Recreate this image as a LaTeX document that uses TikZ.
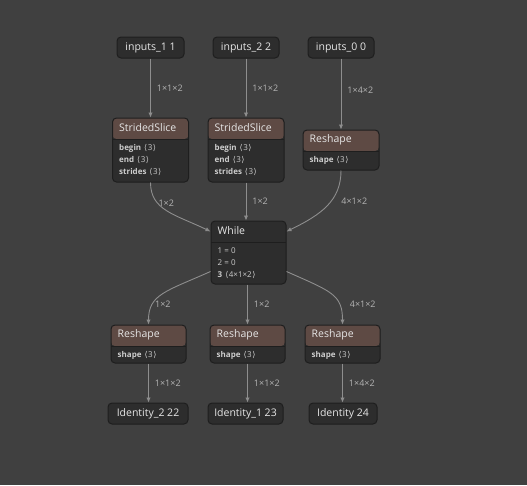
\documentclass[tikz,border=0pt]{standalone}
\usepackage{fontspec}
\setmainfont{Open Sans}
\newfontfamily\symfont{DejaVu Sans}
\usetikzlibrary{arrows.meta, positioning, calc}

\definecolor{canvas}{HTML}{404040}
\definecolor{boxfill}{HTML}{2D2D2D}
\definecolor{boxline}{HTML}{1E1E1E}
\definecolor{headfill}{HTML}{5E4A44}
\definecolor{wire}{HTML}{8E8E8E}
\definecolor{wiretext}{HTML}{B4B4B4}
\definecolor{titletext}{HTML}{E6E6E6}
\definecolor{attrtext}{HTML}{CDCDCD}

\newcommand\tens[1]{\hspace{3pt}{\symfont\char"27E8}\hspace{0.5pt}#1\hspace{0.5pt}{\symfont\char"27E9}}

\tikzset{
  io/.style={draw=boxline, fill=boxfill, rounded corners=4pt, line width=1pt,
    minimum height=21pt, inner sep=0pt, text=titletext,
    font=\fontsize{10.5}{12}\selectfont},
  opbox/.style={draw=boxline, fill=boxfill, rounded corners=4pt, line width=1pt,
    inner sep=0pt,
    path picture={
      \fill[headfill] (path picture bounding box.north west)
        rectangle ([yshift=-21pt]path picture bounding box.north east);
      \draw[boxline, line width=1pt] ([yshift=-21pt]path picture bounding box.north west)
        -- ([yshift=-21pt]path picture bounding box.north east);}},
  ctlbox/.style={draw=boxline, fill=boxfill, rounded corners=4pt, line width=1pt,
    inner sep=0pt,
    path picture={
      \draw[boxline, line width=1pt] ([yshift=-21pt]path picture bounding box.north west)
        -- ([yshift=-21pt]path picture bounding box.north east);}},
  title/.style={anchor=west, inner sep=0pt, text=titletext,
    font=\fontsize{10.5}{12}\selectfont},
  attr/.style={anchor=north west, inner sep=0pt, align=left, text=attrtext,
    font=\fontsize{8}{12}\selectfont},
  wire/.style={draw=wire, line width=0.9pt, -{Latex[length=5pt,width=4.5pt]}},
  lbl/.style={inner sep=0pt, text=wiretext, font=\fontsize{9}{10}\selectfont},
}

\begin{document}
\begin{tikzpicture}[x=1pt, y=-1pt]
  \fill[canvas] (0,0) rectangle (527,485);
  \useasboundingbox (0,0) rectangle (527,485);

  % inputs
  \node[io, minimum width=67pt] (in1) at (150.5,47.5) {inputs\_1 1};
  \node[io, minimum width=66pt] (in2) at (246,47.5) {inputs\_2 2};
  \node[io, minimum width=66pt] (in0) at (341,47.5) {inputs\_0 0};

  % first row of ops
  \node[opbox, minimum width=76pt, minimum height=64pt] (ss1) at (150.5,150) {};
  \node[title] at ([xshift=7pt,yshift=-10.5pt]ss1.north west) {StridedSlice};
  \node[attr] at ([xshift=7pt,yshift=-27pt]ss1.north west)
    {\textbf{begin}\tens{3}\\\textbf{end}\tens{3}\\\textbf{strides}\tens{3}};

  \node[opbox, minimum width=76pt, minimum height=64pt] (ss2) at (246,150) {};
  \node[title] at ([xshift=7pt,yshift=-10.5pt]ss2.north west) {StridedSlice};
  \node[attr] at ([xshift=7pt,yshift=-27pt]ss2.north west)
    {\textbf{begin}\tens{3}\\\textbf{end}\tens{3}\\\textbf{strides}\tens{3}};

  \node[opbox, minimum width=76pt, minimum height=40pt] (rs0) at (341,150) {};
  \node[title] at ([xshift=7pt,yshift=-10.5pt]rs0.north west) {Reshape};
  \node[attr] at ([xshift=7pt,yshift=-27pt]rs0.north west) {\textbf{shape}\tens{3}};

  % loop
  \node[ctlbox, minimum width=75pt, minimum height=63pt] (loop) at (248.5,252.5) {};
  \node[title] at ([xshift=7pt,yshift=-10.5pt]loop.north west) {While};
  \node[attr] at ([xshift=7pt,yshift=-27pt]loop.north west)
    {1 = 0\\2 = 0\\\textbf{3}\tens{4×1×2}};

  % second row of ops
  \foreach \n/\x in {rs1/148.5, rs2/247.5, rs3/342.5} {
    \node[opbox, minimum width=75pt, minimum height=38pt] (\n) at (\x,344) {};
    \node[title] at ([xshift=7pt,yshift=-10.5pt]\n.north west) {Reshape};
    \node[attr] at ([xshift=7pt,yshift=-27pt]\n.north west) {\textbf{shape}\tens{3}};
  }

  % outputs
  \node[io, minimum width=80pt] (id2) at (148,413.5) {Identity\_2 22};
  \node[io, minimum width=75pt] (id1) at (245.5,413.5) {Identity\_1 23};
  \node[io, minimum width=68pt] (id0) at (343,413.5) {Identity 24};

  % edges
  \draw[wire] (in1) -- node[lbl, right=6pt] {1×1×2} (ss1);
  \draw[wire] (in2) -- node[lbl, right=6pt] {1×1×2} (ss2);
  \draw[wire] (in0) -- node[lbl, right=6pt, pos=0.44] {1×4×2} (rs0);

  \draw[wire] (ss1.south) .. controls +(0,28) and +(-35,-17) .. ([yshift=-11pt]loop.north west)
    node[lbl, pos=0.33, right=0pt] {1×2};
  \draw[wire] (ss2.south) -- node[lbl, right=6pt] {1×2} (ss2.south |- loop.north);
  \draw[wire] (rs0.south) .. controls +(0,30) and +(35,-17) .. ([yshift=-11pt]loop.north east)
    node[lbl, pos=0.42, right=10pt] {4×1×2};

  \draw[wire] ([yshift=-51pt]loop.north west) .. controls +(-45,20) and +(0,-30) .. (rs1.north)
    node[lbl, pos=0.72, right=2pt] {1×2};
  \draw[wire] (rs2.north |- loop.south) -- node[lbl, right=6pt] {1×2} (rs2.north);
  \draw[wire] ([yshift=-51pt]loop.north east) .. controls +(45,20) and +(0,-30) .. (rs3.north)
    node[lbl, pos=0.72, right=10pt] {4×1×2};

  \draw[wire] (rs1.south) -- node[lbl, right=6pt] {1×1×2} (rs1.south |- id2.north);
  \draw[wire] (rs2.south) -- node[lbl, right=6pt] {1×1×2} (rs2.south |- id1.north);
  \draw[wire] (rs3.south) -- node[lbl, right=6pt] {1×4×2} (rs3.south |- id0.north);
\end{tikzpicture}
\end{document}
